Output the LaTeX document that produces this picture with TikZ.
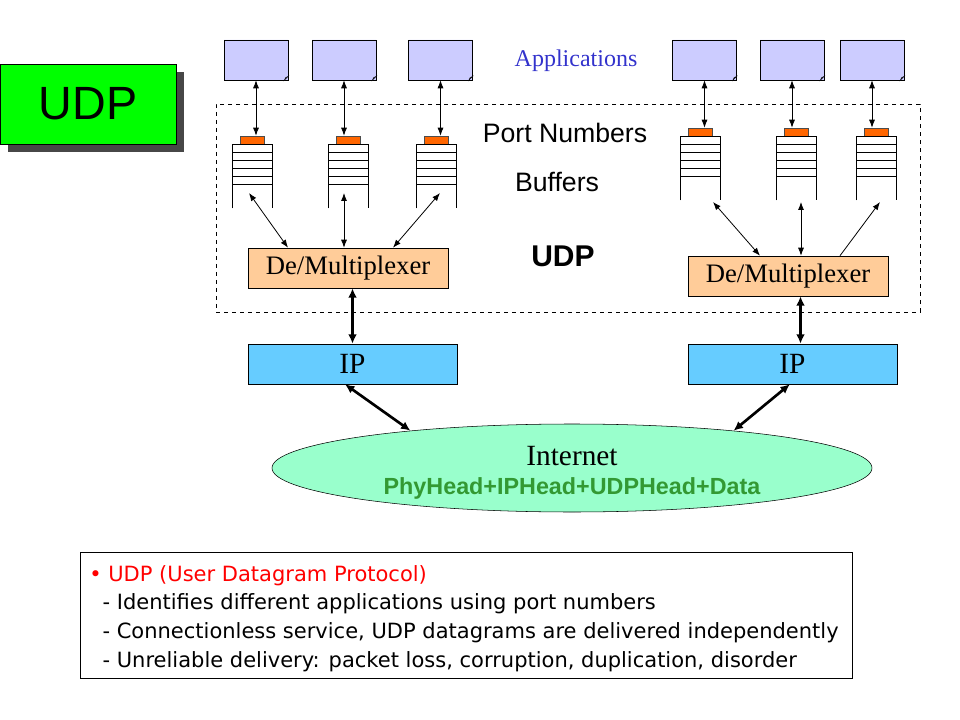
\documentclass[tikz,border=0pt]{standalone}
\usepackage{fontspec}
\setmainfont{Liberation Serif}
\setsansfont{Liberation Sans}
\newfontfamily\notefont{DejaVu Sans}
\usetikzlibrary{arrows.meta,shapes.misc,shapes.geometric,shadows}

\definecolor{appfill}{RGB}{204,204,255}
\definecolor{appfold}{RGB}{160,160,220}
\definecolor{capfill}{RGB}{255,102,0}
\definecolor{muxfill}{RGB}{255,204,153}
\definecolor{ipfill}{RGB}{102,204,255}
\definecolor{netfill}{RGB}{153,255,204}
\definecolor{lblgreen}{RGB}{0,255,0}
\definecolor{appblue}{RGB}{51,51,204}
\definecolor{hdrgreen}{RGB}{51,153,51}

\tikzset{
  app/.style={chamfered rectangle, chamfered rectangle corners=south east,
    chamfered rectangle xsep=3pt, chamfered rectangle ysep=3pt,
    draw, fill=appfill, minimum width=48pt, minimum height=30pt, inner sep=0pt},
  portcap/.style={draw=black!70, fill=capfill, minimum width=18pt, minimum height=6pt, inner sep=0pt},
  mux/.style={draw, fill=muxfill, minimum width=150pt, minimum height=30pt, inner sep=0pt, font=\fontsize{20}{24}\selectfont},
  ipbox/.style={draw, fill=ipfill, minimum width=157pt, minimum height=30pt, inner sep=0pt, font=\fontsize{22}{26}\selectfont},
  linkarrow/.style={<->, >={Latex[length=6pt,width=4.5pt]}, line width=0.6pt},
  trunkarrow/.style={<->, >={Latex[length=7pt,width=6.5pt]}, line width=2pt},
}

\begin{document}
\begin{tikzpicture}[x=0.75pt, y=-0.75pt]
\useasboundingbox (0,0) rectangle (960,720);

% UDP layer frame
\node[draw, dashed, minimum width=528pt, minimum height=156pt, inner sep=0pt] (udpbox) at (568,208) {};

% title
\node[draw, fill=lblgreen, minimum width=132pt, minimum height=60pt, inner sep=0pt,
  general shadow={shadow xshift=6pt, shadow yshift=-6pt, fill=black!72},
  font=\sffamily\fontsize{35}{40}\selectfont] (title) at (88,104) {UDP};

% applications
\node[app] (a1) at (256,60) {};
\node[app] (a2) at (344,60) {};
\node[app] (a3) at (440.5,60) {};
\node[app] (a4) at (704.5,60) {};
\node[app] (a5) at (792,60) {};
\node[app] (a6) at (872,60) {};
\foreach \a in {a1,a2,a3,a4,a5,a6}
  \filldraw[fill=appfold, line width=0.3pt] ([yshift=3pt]\a.south -| \a.east) -- ([xshift=-3pt]\a.south -| \a.east) -- ([shift={(-2pt,2pt)}]\a.south -| \a.east) -- cycle;

\node[text=appblue, font=\fontsize{18}{22}\selectfont] (apps) at (576,61) {Applications};
\node[font=\sffamily\fontsize{20}{24}\selectfont] (ports) at (565,133) {Port Numbers};
\node[font=\sffamily\fontsize{20}{24}\selectfont] (bufs) at (557,182) {Buffers};
\node[font=\sffamily\bfseries\fontsize{22.5}{26}\selectfont] (udp) at (563,256) {UDP};

% port numbers
\node[portcap] (c1) at (252,140) {};
\node[portcap] (c2) at (348.5,140) {};
\node[portcap] (c3) at (436.5,140) {};
\node[portcap] (c4) at (700,132) {};
\node[portcap] (c5) at (796,132) {};
\node[portcap] (c6) at (876.5,132) {};

% buffers
\foreach \c in {c1,c2,c3,c4,c5,c6} {
  \draw ([shift={(-15pt,-48pt)}]\c.south) -- ([xshift=-15pt]\c.south) -- ([xshift=15pt]\c.south) -- ([shift={(15pt,-48pt)}]\c.south);
  \foreach \k in {1,...,5}
    \draw ([shift={(-15pt,{-6pt*\k})}]\c.south) -- ++(30pt,0);
}

\draw[linkarrow] (a1.south) -- (a1.south |- c1.north);
\draw[linkarrow] (a2.south) -- (a2.south |- c2.north);
\draw[linkarrow] (a3.south) -- (a3.south |- c3.north);
\draw[linkarrow] (a4.south) -- (a4.south |- c4.north);
\draw[linkarrow] (a5.south) -- (a5.south |- c5.north);
\draw[linkarrow] (a6.south) -- (a6.south |- c6.north);

% multiplexers
\node[mux] (m1) at (348,268) {De/Multiplexer};
\node[mux] (m2) at (788,276) {De/Multiplexer};

\coordinate (q1) at (249,193);
\coordinate (q2) at (344,193);
\coordinate (q3) at (440,193);
\coordinate (q4) at (713,202);
\coordinate (q5) at (801,202);
\coordinate (q6) at (880,202);

\draw[linkarrow] (q1) -- ([xshift=-45pt]m1.north);
\draw[linkarrow] (q2) -- ([xshift=-3pt]m1.north);
\draw[linkarrow] (q3) -- ([xshift=33.75pt]m1.north);
\draw[linkarrow] (q4) -- ([xshift=-21pt]m2.north);
\draw[linkarrow] (q5) -- ([xshift=9.75pt]m2.north);
\draw[linkarrow, <-] (q6) -- ([xshift=39pt]m2.north);

% IP
\node[ipbox] (ip1) at (352.5,364) {IP};
\node[ipbox] (ip2) at (792.5,364) {IP};

\draw[trunkarrow] (ip1.north |- m1.south) -- (ip1.north);
\draw[trunkarrow] ([xshift=6pt]ip2.north |- m2.south) -- ([xshift=6pt]ip2.north);

% internet
\node[ellipse, draw, fill=netfill, minimum width=450pt, minimum height=66pt, inner sep=0pt] (net) at (572,468) {};
\node[font=\fontsize{22}{26}\selectfont] (inet) at (572,456) {Internet};
\node[text=hdrgreen, font=\sffamily\bfseries\fontsize{17.5}{21}\selectfont] (hdr) at (572,488) {PhyHead+IPHead+UDPHead+Data};

\draw[trunkarrow] ([xshift=-5.6pt]ip1.south) -- (net.167);
\draw[trunkarrow] ([xshift=-2pt]ip2.south) -- (net.13);

% notes
\node[draw, minimum width=579pt, minimum height=94.5pt, inner sep=0pt] (notebox) at (466,615) {};
\node[anchor=north west, align=left, inner sep=0pt, font=\notefont\fontsize{15.75}{21.5}\selectfont] (notes) at (89,565) {%
\textcolor{red}{• UDP (User Datagram Protocol)}\\
\hspace*{10pt}- Identifies different applications using port numbers\\
\hspace*{10pt}- Connectionless service, UDP datagrams are delivered independently\\
\hspace*{10pt}- Unreliable delivery: packet loss, corruption, duplication, disorder};

\end{tikzpicture}
\end{document}
